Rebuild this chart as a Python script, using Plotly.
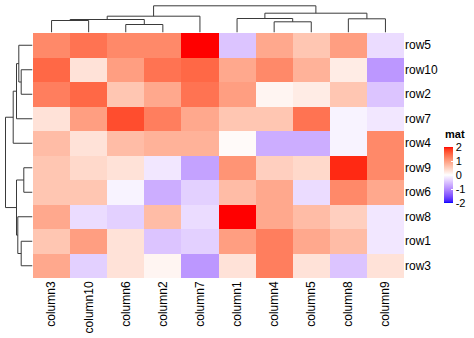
import numpy as np
import plotly.graph_objects as go

# ---- data -------------------------------------------------------------
col_order = ["column3", "column10", "column6", "column2", "column7",
             "column1", "column4", "column5", "column8", "column9"]
row_order = ["row5", "row10", "row2", "row7", "row4",
             "row9", "row6", "row8", "row1", "row3"]

mat = [
    [1.2, 1.4, 1.2, 1.2, 2.0, -0.5, 0.9, 0.6, 1.0, -0.3],   # row5
    [1.5, 0.3, 1.0, 1.4, 1.5, 0.9, 1.2, 0.8, 0.2, -0.9],    # row10
    [1.3, 1.5, 0.6, 0.9, 1.4, 1.0, 0.1, 0.2, 0.6, -0.5],    # row2
    [0.3, 1.0, 1.7, 1.3, 0.9, 0.6, 0.6, 1.4, -0.1, -0.2],   # row7
    [0.7, 0.3, 0.7, 0.8, 0.8, 0.05, -0.7, -0.7, -0.1, 1.2], # row4
    [0.6, 0.4, 0.3, -0.2, -0.8, 1.1, 0.5, 0.4, 1.9, 1.2],   # row9
    [0.6, 0.6, -0.1, -0.7, -0.4, 0.7, 0.9, -0.3, 1.2, 0.9], # row6
    [0.9, -0.3, -0.4, 0.7, -0.3, 2.0, 0.9, 0.7, 0.5, -0.2], # row8
    [0.6, 1.0, 0.3, -0.5, -0.4, 1.0, 1.3, 0.9, 0.7, -0.2],  # row1
    [0.9, -0.4, 0.3, 0.1, -0.9, 0.3, 1.3, 0.3, -0.5, 0.3],  # row3
]

# hclust-style merges: negative = leaf (1-based), positive = earlier merge
col_merge = [[-1, -2], [-3, -4], [1, 2], [3, -5], [-7, -8],
             [-6, 5], [-9, -10], [6, 7], [4, 8]]
col_height = [12.0, 8.0, 13.0, 16.3, 10.7, 14.0, 13.7, 19.3, 26.7]

row_merge = [[-2, -3], [-1, 1], [2, -4], [3, -5], [-6, -7],
             [-9, -10], [-8, 6], [5, 7], [4, 8]]
row_height = [11.3, 13.7, 16.0, 19.3, 8.7, 11.3, 14.7, 16.0, 27.0]

legend_title = "mat"
legend_ticks = [-2, -1, 0, 1, 2]


# ---- colour mapping: blue - white - red interpolated in CIE Lab ---------
def _srgb_to_lab(rgb):
    c = np.asarray(rgb, float) / 255.0
    lin = np.where(c <= 0.04045, c / 12.92, ((c + 0.055) / 1.055) ** 2.4)
    m = np.array([[0.4124, 0.3576, 0.1805],
                  [0.2126, 0.7152, 0.0722],
                  [0.0193, 0.1192, 0.9505]])
    xyz = m @ lin / np.array([0.95047, 1.0, 1.08883])
    f = np.where(xyz > 0.008856, np.cbrt(xyz), 7.787 * xyz + 16 / 116)
    return np.array([116 * f[1] - 16, 500 * (f[0] - f[1]), 200 * (f[1] - f[2])])


def _lab_to_srgb(lab):
    L, a, b = lab
    fy = (L + 16) / 116
    fx = fy + a / 500
    fz = fy - b / 200
    f = np.array([fx, fy, fz])
    xyz = np.where(f ** 3 > 0.008856, f ** 3, (f - 16 / 116) / 7.787)
    xyz = xyz * np.array([0.95047, 1.0, 1.08883])
    m = np.array([[3.2406, -1.5372, -0.4986],
                  [-0.9689, 1.8758, 0.0415],
                  [0.0557, -0.2040, 1.0570]])
    lin = np.clip(m @ xyz, 0, 1)
    c = np.where(lin <= 0.0031308, 12.92 * lin, 1.055 * lin ** (1 / 2.4) - 0.055)
    return np.clip(np.round(c * 255), 0, 255).astype(int)


anchors = [(-2, (0, 0, 255)), (0, (255, 255, 255)), (2, (255, 0, 0))]
colorscale = []
for v in np.linspace(-2, 2, 41):
    for (v0, c0), (v1, c1) in zip(anchors[:-1], anchors[1:]):
        if v0 <= v <= v1:
            t = (v - v0) / (v1 - v0)
            lab = (1 - t) * _srgb_to_lab(c0) + t * _srgb_to_lab(c1)
            r, g, b = _lab_to_srgb(lab)
            colorscale.append([(v + 2) / 4, f"rgb({r},{g},{b})"])
            break


# ---- dendrogram segments ---------------------------------------------
def dendro_segments(merge, heights):
    pos, hgt = {}, {}
    xs, ys = [], []
    for i, (a, b) in enumerate(merge):
        ends = []
        for node in (a, b):
            if node < 0:
                ends.append((-node - 1, 0.0))
            else:
                ends.append((pos[node - 1], hgt[node - 1]))
        h = heights[i]
        (pa, ha), (pb, hb) = ends
        xs += [pa, pa, pb, pb, None]
        ys += [ha, h, h, hb, None]
        pos[i] = (pa + pb) / 2
        hgt[i] = h
    return xs, ys


W, H = 474, 338
hm_left, hm_right, hm_top, hm_bottom = 33, 404, 33, 278
xdom = [hm_left / W, hm_right / W]
ydom = [1 - hm_bottom / H, 1 - hm_top / H]
small = dict(size=11, family="Liberation Sans, Arial", color="#000")

fig = go.Figure()

fig.add_trace(go.Heatmap(
    z=mat, x=col_order, y=row_order,
    zmin=-2, zmax=2, colorscale=colorscale,
    xaxis="x", yaxis="y",
    colorbar=dict(
        x=444 / W, xanchor="left", xpad=0,
        y=1 - 175.5 / H, yanchor="middle", ypad=0,
        lenmode="pixels", len=56, thickness=9,
        tickvals=legend_ticks, ticktext=[str(t) for t in legend_ticks],
        ticks="inside", ticklen=2, tickcolor="white",
        tickfont=small, outlinewidth=0,
    ),
    hoverongaps=False,
))

cx, cy = dendro_segments(col_merge, col_height)
fig.add_trace(go.Scatter(x=cx, y=cy, mode="lines", xaxis="x2", yaxis="y2",
                         line=dict(color="#3a3a3a", width=1), hoverinfo="skip",
                         showlegend=False))

rx, ry = dendro_segments(row_merge, row_height)
fig.add_trace(go.Scatter(x=ry, y=rx, mode="lines", xaxis="x3", yaxis="y3",
                         line=dict(color="#3a3a3a", width=1), hoverinfo="skip",
                         showlegend=False))

font = dict(family="Liberation Sans, Arial", size=12, color="#000")
hidden = dict(showgrid=False, zeroline=False, showticklabels=False,
              ticks="", showline=False)

fig.add_annotation(text=f"<b>{legend_title}</b>", xref="paper", yref="paper",
                   x=443 / W, y=1 - 134 / H, xanchor="left", yanchor="middle",
                   showarrow=False, font=small)

fig.update_layout(
    width=W, height=H,
    margin=dict(l=0, r=0, t=0, b=0),
    paper_bgcolor="white", plot_bgcolor="rgba(0,0,0,0)",
    showlegend=False,
    xaxis=dict(domain=xdom, range=[-0.5, 9.5], tickangle=-90, ticks="",
               tickfont=font, showgrid=False, zeroline=False, automargin=False,
               categoryorder="array", categoryarray=col_order),
    yaxis=dict(domain=ydom, range=[9.5, -0.5], side="right", ticks="",
               tickfont=font, showgrid=False, zeroline=False, automargin=False,
               categoryorder="array", categoryarray=row_order),
    xaxis2=dict(domain=xdom, range=[-0.5, 9.5], anchor="y2", **hidden),
    yaxis2=dict(domain=[1 - 32.5 / H, 1], range=[0, 32.5], anchor="x2", **hidden),
    xaxis3=dict(domain=[0, 32.5 / W], range=[32.5, 0], anchor="y3", **hidden),
    yaxis3=dict(domain=ydom, range=[9.5, -0.5], anchor="x3", **hidden),
)

fig.write_html("out.html")
